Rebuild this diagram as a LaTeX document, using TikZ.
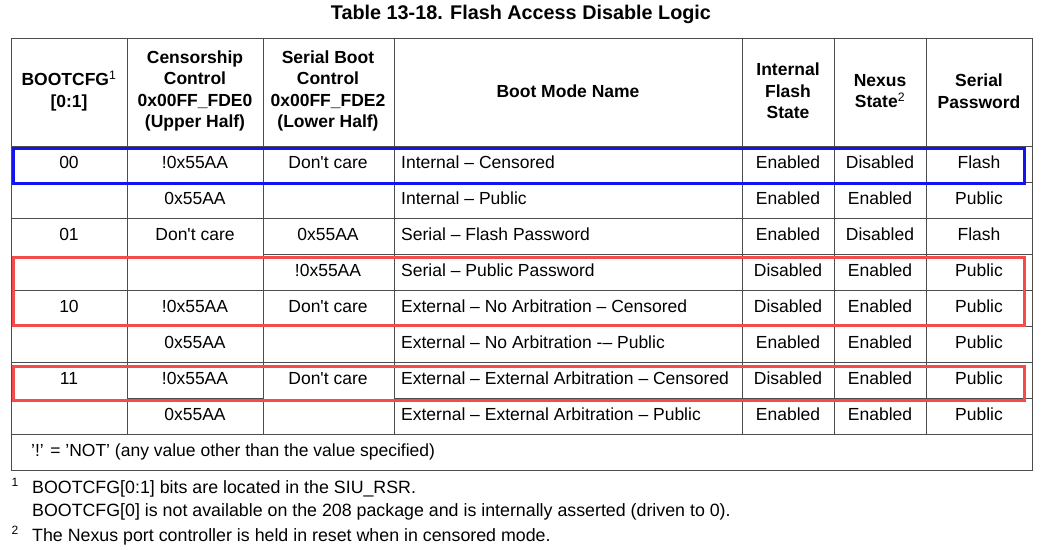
\documentclass[tikz,border=0pt]{standalone}
\usepackage{fontspec}
\setmainfont{Liberation Sans}
\begin{document}
\begin{tikzpicture}[x=1pt,y=-1pt,
  cell/.style={font=\fontsize{17.5}{21}\selectfont,inner sep=0pt,anchor=center,text height=12.5pt,text depth=3.5pt},
  lcell/.style={font=\fontsize{17.5}{21}\selectfont,inner sep=0pt,anchor=west,text height=12.5pt,text depth=3.5pt},
  fcell/.style={font=\fontsize{17.8}{21}\selectfont,inner sep=0pt,anchor=west,text height=12.5pt,text depth=3.5pt},
  hd/.style={font=\bfseries\fontsize{17.5}{21.5}\selectfont,inner sep=0pt,align=center,anchor=center},
  grid/.style={draw=black!70,line width=0.8pt},
  hl/.style={line width=3pt}]
\useasboundingbox (0,0) rectangle (1043,549);
\node[font=\bfseries\fontsize{19.8}{22}\selectfont] (title) at (521,14) {Table 13-18. Flash Access Disable Logic};
% outer and verticals
\draw[grid] (11,38) rectangle (1032,470);
\foreach \x in {127,263,394,742,834,926} \draw[grid] (\x,38) -- (\x,434);
\draw[grid] (11,146) -- (1032,146);
\foreach \y in {218,290,362,434} \draw[grid] (11,\y) -- (1032,\y);
\foreach \y in {182,326,398} {\draw[grid] (127,\y) -- (263,\y); \draw[grid] (394,\y) -- (1032,\y);}
\draw[grid] (263,254) -- (1032,254);
% header
\node[hd] (h1) at (69,91) {BOOTCFG$^{\mathrm{1}}$\\{}[0:1]};
\node[hd] (h2) at (195,91) {Censorship\\Control\\0x00FF\_FDE0\\(Upper Half)};
\node[hd] (h3) at (328,91) {Serial Boot\\Control\\0x00FF\_FDE2\\(Lower Half)};
\node[hd] (h4) at (568,91) {Boot Mode Name};
\node[hd] (h5) at (788,91) {Internal\\Flash\\State};
\node[hd] (h6) at (880,91) {Nexus\\State$^{\mathrm{2}}$};
\node[hd] (h7) at (979,91) {Serial\\Password};
% rows
\def\dc{Don\textquotesingle t care}
\foreach \r/\a/\b/\c/\d/\e/\f/\g in {
 1/00/!0x55AA/\dc/Internal – Censored/Enabled/Disabled/Flash,
 2//0x55AA//Internal – Public/Enabled/Enabled/Public,
 3/01/\dc/0x55AA/Serial – Flash Password/Enabled/Disabled/Flash,
 4///!0x55AA/Serial – Public Password/Disabled/Enabled/Public,
 5/10/!0x55AA/\dc/External – No Arbitration – Censored/Disabled/Enabled/Public,
 6//0x55AA//External – No Arbitration -– Public/Enabled/Enabled/Public,
 7/11/!0x55AA/\dc/External – External Arbitration – Censored/Disabled/Enabled/Public,
 8//0x55AA//External – External Arbitration – Public/Enabled/Enabled/Public}{
  \pgfmathsetmacro{\yy}{128+36*\r}
  \node[cell] (a\r) at (69,\yy) {\a};
  \node[cell] (b\r) at (195,\yy) {\b};
  \node[cell] (c\r) at (328,\yy) {\c};
  \node[lcell] (d\r) at (401,\yy) {\d};
  \node[cell] (e\r) at (788,\yy) {\e};
  \node[cell] (f\r) at (880,\yy) {\f};
  \node[cell] (g\r) at (979,\yy) {\g};
}
\node[lcell] (note) at (31,452) {’!’ = ’NOT’ (any value other than the value specified)};
% footnotes
\node[font=\fontsize{12}{14}\selectfont,inner sep=0pt] (fn1) at (15,482) {1};
\node[fcell] (fa) at (32,489) {BOOTCFG[0:1] bits are located in the SIU\_RSR.};
\node[fcell] (fb) at (32,512) {BOOTCFG[0] is not available on the 208 package and is internally asserted (driven to 0).};
\node[font=\fontsize{12}{14}\selectfont,inner sep=0pt] (fn2) at (15,530) {2};
\node[fcell] (fc) at (32,537) {The Nexus port controller is held in reset when in censored mode.};
% highlights
\draw[hl,draw={rgb,255:red,20;green,20;blue,240}] (13,148) rectangle (1024,183);
\draw[hl,draw={rgb,255:red,245;green,75;blue,75}] (13,257) rectangle (1024,325);
\draw[hl,draw={rgb,255:red,245;green,75;blue,75}] (13,366) rectangle (1024,400);
\end{tikzpicture}
\end{document}
